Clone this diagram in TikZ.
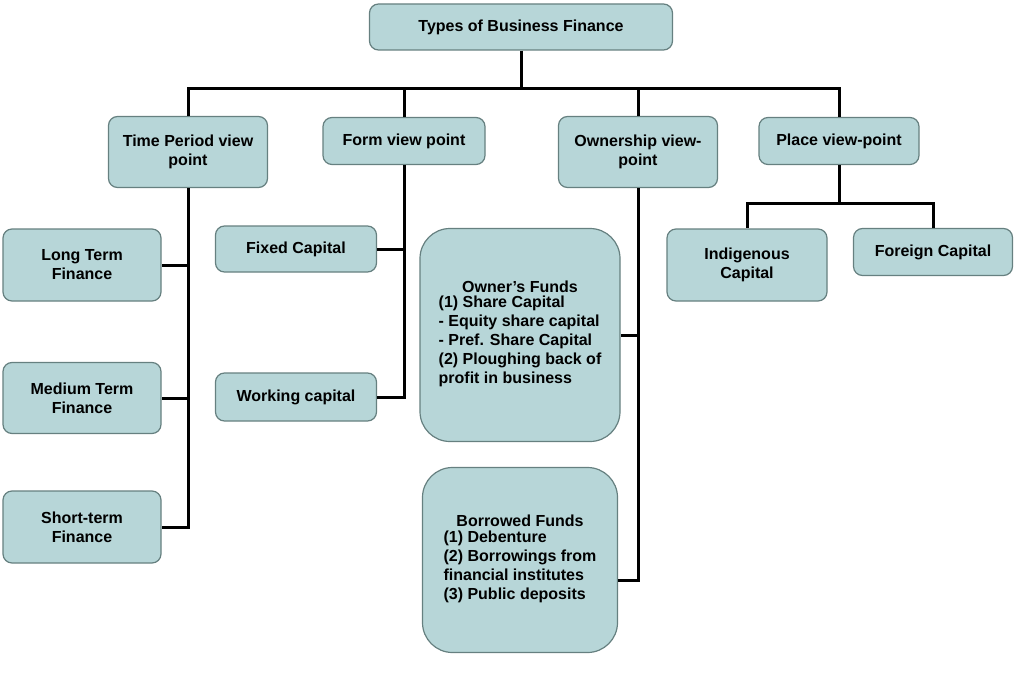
\documentclass[tikz,border=0pt]{standalone}
\usepackage{fontspec}
\setmainfont{Liberation Sans}
\begin{document}
\begin{tikzpicture}[x=1pt,y=-1pt,
  bx/.style={draw=gray!80!teal,line width=1.2pt,fill=boxc,rounded corners=9pt,align=center,font=\fontsize{16}{19}\selectfont\bfseries,inner sep=2pt},
  ln/.style={line width=3pt,black}]
\definecolor{boxc}{RGB}{183,214,216}
\useasboundingbox (0,0) rectangle (1017,682);
\node[bx,minimum width=303,minimum height=46] (title) at (521,27) {Types of Business Finance};
\node[bx,minimum width=159,minimum height=71] (tp) at (188,152) {Time Period view\\point};
\node[bx,minimum width=162,minimum height=47] (fv) at (404,141) {Form view point};
\node[bx,minimum width=159,minimum height=71] (ov) at (638,152) {Ownership view-\\point};
\node[bx,minimum width=160,minimum height=47] (pv) at (839,141) {Place view-point};
\node[bx,minimum width=158,minimum height=72] (lt) at (82,265) {Long Term\\Finance};
\node[bx,minimum width=158,minimum height=71] (mt) at (82,398) {Medium Term\\Finance};
\node[bx,minimum width=158,minimum height=72] (st) at (82,527) {Short-term\\Finance};
\node[bx,minimum width=161,minimum height=46] (fc) at (296,249) {Fixed Capital};
\node[bx,minimum width=161,minimum height=48] (wc) at (296,397) {Working capital};
\node[bx,minimum width=200,minimum height=213,rounded corners=30pt] (of) at (520,335) {Owner's Funds\\[1pt]
  \begin{tabular}{@{}l@{}}(1) Share Capital\\ - Equity share capital\\ - Pref. Share Capital\\ (2) Ploughing back of\\ profit in business\end{tabular}};
\node[bx,minimum width=195,minimum height=185,rounded corners=30pt] (bf) at (520,560) {Borrowed Funds\\[1pt]
  \begin{tabular}{@{}l@{}}(1) Debenture\\ (2) Borrowings from\\ financial institutes\\ (3) Public deposits\end{tabular}};
\node[bx,minimum width=160,minimum height=72] (ic) at (747,265) {Indigenous\\Capital};
\node[bx,minimum width=159,minimum height=47] (fo) at (933,252) {Foreign Capital};
\coordinate (hub) at (521,89);
\coordinate (phub) at (839,203);
\draw[ln] (title) -- (hub);
\draw[ln] (hub) -| (tp.north);
\draw[ln] (hub) -| (fv.north);
\draw[ln] (hub) -| (ov.north);
\draw[ln] (hub) -| (pv.north);
\draw[ln] (tp.south) |- (lt.east);
\draw[ln] (tp.south) |- (mt.east);
\draw[ln] (tp.south) |- (st.east);
\draw[ln] (fv.south) |- (fc.east);
\draw[ln] (fv.south) |- (wc.east);
\draw[ln] (ov.south) |- (of.east);
\draw[ln] (ov.south) |- ([yshift=-20pt]bf.east);
\draw[ln] (pv.south) -- (phub);
\draw[ln] (phub) -| (ic.north);
\draw[ln] (phub) -| (fo.north);
\end{tikzpicture}
\end{document}
